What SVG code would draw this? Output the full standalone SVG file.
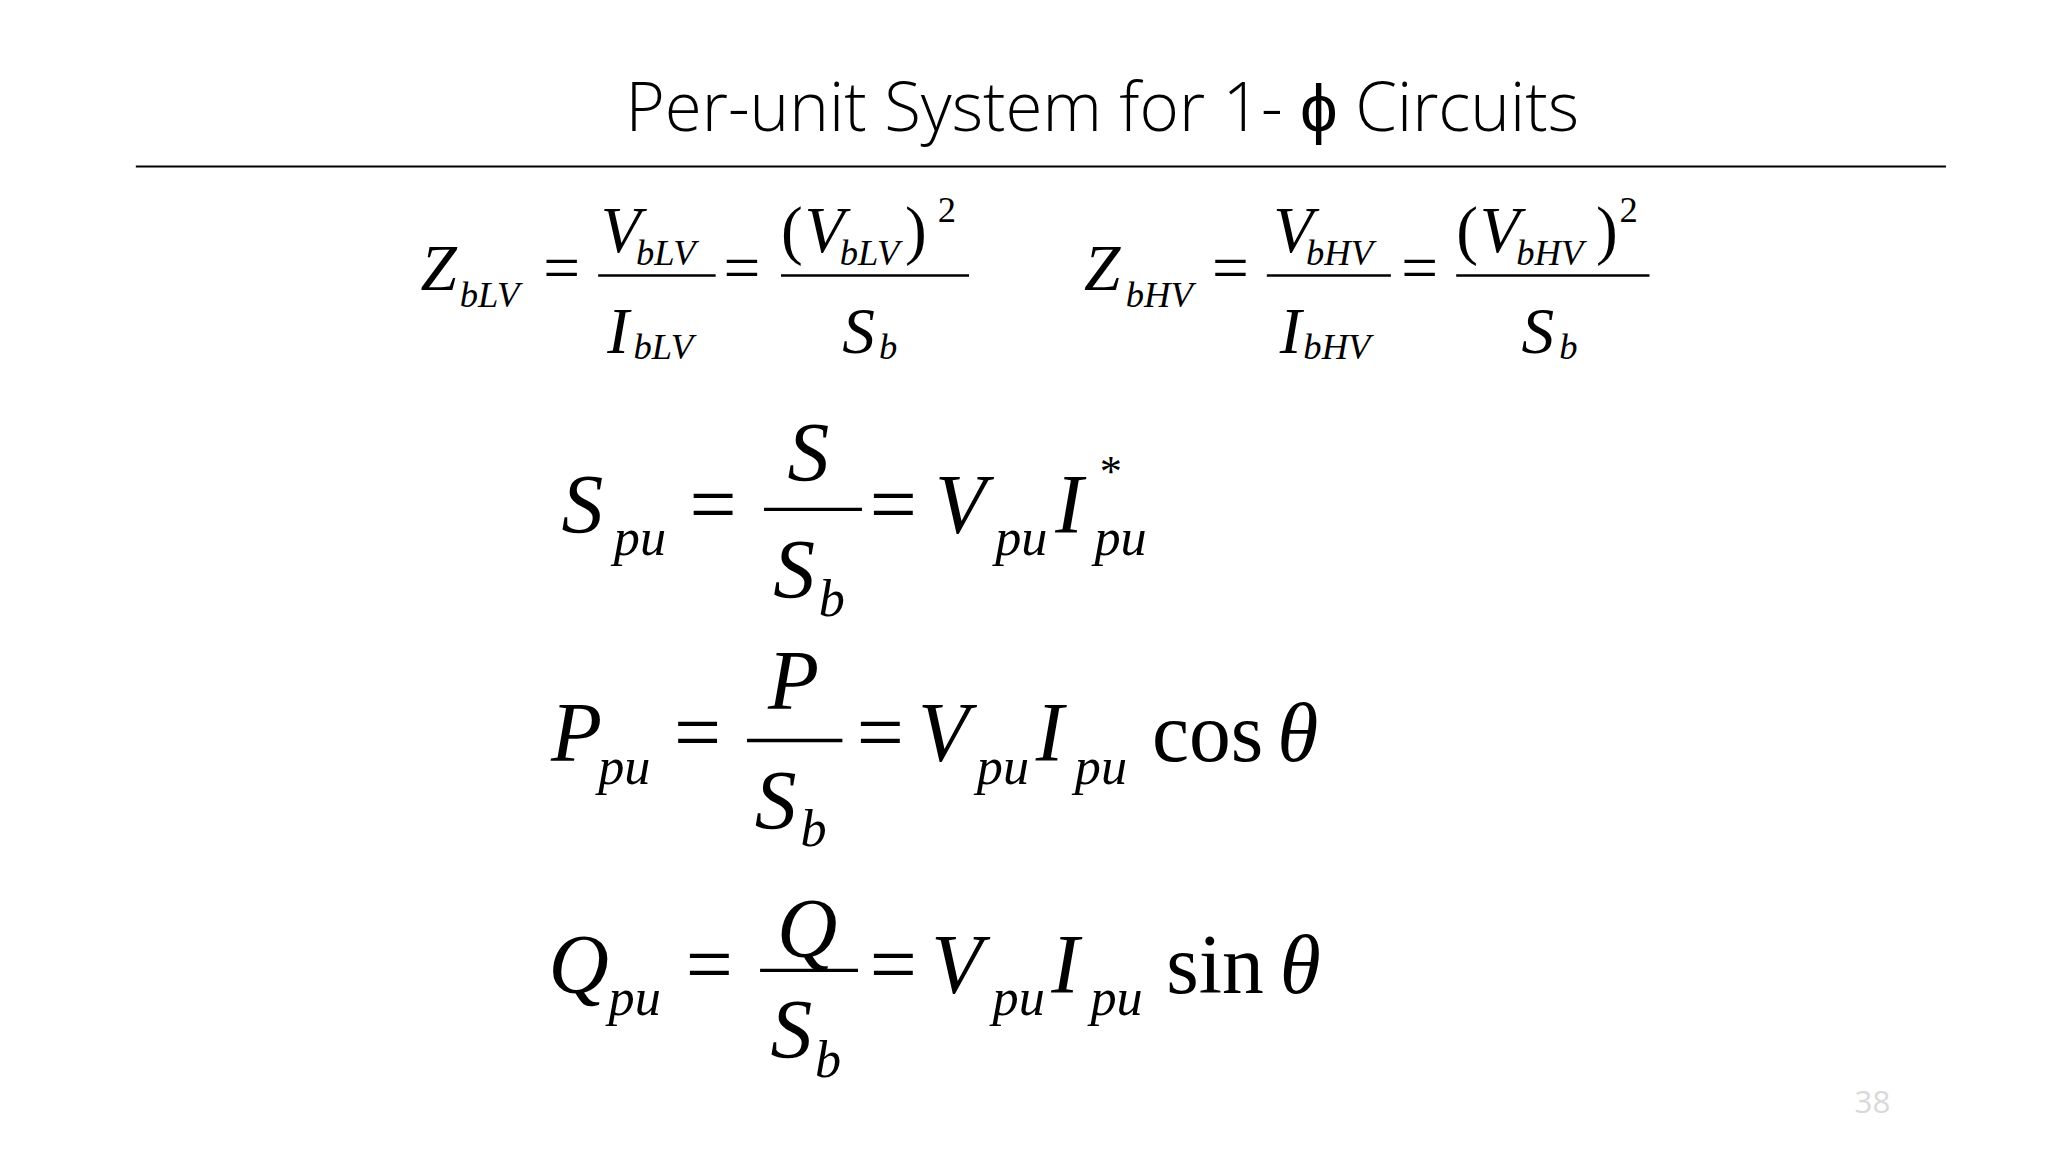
<svg xmlns="http://www.w3.org/2000/svg" width="2048" height="1152" viewBox="0 0 2048 1152">
<style>
.m{font-family:"Liberation Serif",serif;font-style:italic;fill:#000}
.u{font-family:"Liberation Serif",serif;fill:#000}
.a{font-size:50px}.as{font-size:28px}
.b{font-size:64px}.bs{font-size:40px}
</style>
<rect width="2048" height="1152" fill="#fff"/>
<g transform="scale(1.306)">
<g id="title"><text x="844" y="100" text-anchor="middle" font-family="'Open Sans',sans-serif" font-weight="300" font-size="51.5" fill="#000">Per-unit System for 1- ϕ Circuits</text>
<line x1="104" y1="127.5" x2="1490" y2="127.5" stroke="#000" stroke-width="1.5"/></g>
<g id="zlv">
<text class="m a" x="322" y="222">Z</text><text class="m as" x="352" y="235">bLV</text>
<text class="u a" x="416" y="222">=</text>
<text class="m a" x="460" y="193">V</text><text class="m as" x="487" y="203">bLV</text>
<line x1="458" y1="211" x2="548" y2="211" stroke="#000" stroke-width="2"/>
<text class="m a" x="465" y="270">I</text><text class="m as" x="485" y="275">bLV</text>
<text class="u a" x="554" y="222">=</text>
<text class="u a" x="598" y="193">(</text><text class="m a" x="616" y="193">V</text><text class="m as" x="643" y="203">bLV</text><text class="u a" x="693" y="193">)</text><text class="u as" x="718" y="170">2</text>
<line x1="598" y1="211" x2="742" y2="211" stroke="#000" stroke-width="2"/>
<text class="m a" x="645" y="270">S</text><text class="m as" x="673" y="275">b</text>
</g>
<g id="zhv">
<text class="m a" x="830" y="222">Z</text><text class="m as" x="862" y="235">bHV</text>
<text class="u a" x="928" y="222">=</text>
<text class="m a" x="975" y="193">V</text><text class="m as" x="1000" y="203">bHV</text>
<line x1="970" y1="211" x2="1065" y2="211" stroke="#000" stroke-width="2"/>
<text class="m a" x="980" y="270">I</text><text class="m as" x="998" y="275">bHV</text>
<text class="u a" x="1073" y="222">=</text>
<text class="u a" x="1115" y="193">(</text><text class="m a" x="1133" y="193">V</text><text class="m as" x="1161" y="203">bHV</text><text class="u a" x="1222" y="193">)</text><text class="u as" x="1240" y="170">2</text>
<line x1="1115" y1="211" x2="1263" y2="211" stroke="#000" stroke-width="2"/>
<text class="m a" x="1165" y="270">S</text><text class="m as" x="1194" y="275">b</text>
</g>
<g id="spu">
<text class="m b" x="430" y="408">S</text><text class="m bs" x="470" y="425">pu</text>
<text class="u b" x="528" y="408">=</text>
<text class="m b" x="603" y="368">S</text>
<line x1="585" y1="390" x2="660" y2="390" stroke="#000" stroke-width="2.5"/>
<text class="m b" x="592" y="458">S</text><text class="m bs" x="627" y="472">b</text>
<text class="u b" x="666" y="408">=</text>
<text class="m b" x="716" y="408">V</text><text class="m bs" x="762" y="425">pu</text>
<text class="m b" x="808" y="408">I</text><text class="u" font-size="34" x="842" y="372">*</text><text class="m bs" x="838" y="425">pu</text>
</g>
<g id="ppu">
<text class="m b" x="422" y="583">P</text><text class="m bs" x="458" y="600">pu</text>
<text class="u b" x="516" y="583">=</text>
<text class="m b" x="588" y="543">P</text>
<line x1="572" y1="567" x2="645" y2="567" stroke="#000" stroke-width="2.5"/>
<text class="m b" x="578" y="635">S</text><text class="m bs" x="613" y="648">b</text>
<text class="u b" x="656" y="583">=</text>
<text class="m b" x="703" y="583">V</text><text class="m bs" x="748" y="600">pu</text>
<text class="m b" x="793" y="583">I</text><text class="m bs" x="823" y="600">pu</text>
<text class="u b" x="882" y="583">cos</text><text class="m b" x="978" y="583">θ</text>
</g>
<g id="qpu">
<text class="m b" x="420" y="760">Q</text><text class="m bs" x="466" y="777">pu</text>
<text class="u b" x="525" y="760">=</text>
<text class="m b" x="595" y="733">Q</text>
<line x1="582" y1="743" x2="657" y2="743" stroke="#000" stroke-width="2.5"/>
<text class="m b" x="590" y="810">S</text><text class="m bs" x="624" y="825">b</text>
<text class="u b" x="666" y="760">=</text>
<text class="m b" x="713" y="760">V</text><text class="m bs" x="760" y="777">pu</text>
<text class="m b" x="805" y="760">I</text><text class="m bs" x="835" y="777">pu</text>
<text class="u b" x="893" y="760">sin</text><text class="m b" x="980" y="760">θ</text>
</g>
<text x="1420" y="852" font-family="'Open Sans',sans-serif" font-size="24" fill="#d9d9d9">38</text>
</g>
</svg>
